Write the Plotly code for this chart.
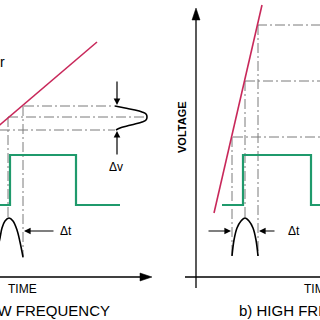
import plotly.graph_objects as go

# ---- data (diagram geometry in picture units, 0..320, y downwards) ----
red_left_x = [-5, 97]
red_left_y = [129, 42]
red_right_x = [214, 238, 262]
red_right_y = [213, 110, 5]

pulse_left_x = [0, 10, 10, 76, 76, 120]
pulse_left_y = [205, 205, 155, 155, 205, 205]
pulse_right_x = [222, 243, 243, 311, 311, 320]
pulse_right_y = [205, 205, 155, 155, 205, 205]

dv_curve_x = [115, 125, 135, 142, 146, 147, 146, 142, 135, 127, 120, 116]
dv_curve_y = [106, 108, 110, 112, 114, 117, 120, 122, 124, 126, 128, 130]

dt_left_x = [-3, 0, 2, 5, 9, 13, 17, 20, 23]
dt_left_y = [252, 238, 228, 221, 218, 221, 230, 242, 257]
dt_right_x = [232, 234, 237, 241, 245, 249, 253, 256, 258]
dt_right_y = [256, 240, 228, 221, 218, 221, 228, 240, 256]

# dashed guide lines: (x0, y0, x1, y1)
guides = [
    (24, 106, 115, 106), (8, 117, 147, 117), (0, 130, 115, 130),
    (8, 117, 8, 218), (23, 106, 23, 258),
    (257, 25, 320, 25), (245, 81, 320, 81), (233, 137, 320, 137),
    (258, 25, 258, 258), (245, 81, 245, 218), (232, 137, 232, 258),
]

RED = "#c8285a"
GREEN = "#1f9a6c"
GRAY = "#7a7a7a"

fig = go.Figure()

for (x0, y0, x1, y1) in guides:
    fig.add_trace(go.Scatter(x=[x0, x1], y=[y0, y1], mode="lines",
                             line=dict(color=GRAY, width=1, dash="10px,3px,2px,3px"),
                             hoverinfo="skip"))

fig.add_trace(go.Scatter(x=red_left_x, y=red_left_y, mode="lines", line=dict(color=RED, width=1.6)))
fig.add_trace(go.Scatter(x=red_right_x, y=red_right_y, mode="lines", line=dict(color=RED, width=1.6)))
fig.add_trace(go.Scatter(x=pulse_left_x, y=pulse_left_y, mode="lines", line=dict(color=GREEN, width=2.2)))
fig.add_trace(go.Scatter(x=pulse_right_x, y=pulse_right_y, mode="lines", line=dict(color=GREEN, width=2.2)))
for cx, cy in [(dv_curve_x, dv_curve_y), (dt_left_x, dt_left_y), (dt_right_x, dt_right_y)]:
    fig.add_trace(go.Scatter(x=cx, y=cy, mode="lines", line=dict(color="black", width=1.6, shape="spline")))

# axes lines
fig.add_trace(go.Scatter(x=[0, 142], y=[277, 277], mode="lines", line=dict(color="black", width=1.3)))
fig.add_trace(go.Scatter(x=[185, 320], y=[277, 277], mode="lines", line=dict(color="black", width=1.3)))
fig.add_trace(go.Scatter(x=[196, 196], y=[20, 288], mode="lines", line=dict(color="black", width=1.3)))

# filled axis arrowheads
fig.add_trace(go.Scatter(x=[140, 152, 140, 140], y=[273, 277, 281, 273], mode="lines", fill="toself",
                         fillcolor="black", line=dict(color="black", width=0.5)))
fig.add_trace(go.Scatter(x=[192, 196, 200, 192], y=[20, 8, 20, 20], mode="lines", fill="toself",
                         fillcolor="black", line=dict(color="black", width=0.5)))

# small arrows: (tip_x, tip_y, tail_x, tail_y)
arrows = [(117, 105, 117, 80), (117, 131, 117, 156), (24, 231, 55, 231),
          (231, 231, 207, 231), (259, 231, 276, 231)]
for tx, ty, sx, sy in arrows:
    fig.add_annotation(x=tx, y=ty, ax=sx, ay=sy, xref="x", yref="y", axref="x", ayref="y",
                       showarrow=True, arrowhead=2, arrowsize=1.1, arrowwidth=1.2,
                       arrowcolor="black", text="")

FONT = "Liberation Sans, Arial, sans-serif"
texts = [
    ("r", 2, 62, 14, "center"),
    ("Δv", 116, 167, 12, "center"),
    ("Δt", 58, 231, 12, "left"),
    ("Δt", 286, 231, 12, "left"),
    ("TIME", 22, 289, 12, "center"),
    ("TIME", 302, 289, 12, "left"),
    ("a) LOW FREQUENCY", 112, 310, 15, "right"),
    ("b) HIGH FREQUENCY", 237, 310, 15, "left"),
]
for t, x, y, s, anc in texts:
    fig.add_annotation(x=x, y=y, xref="x", yref="y", text=t, showarrow=False,
                       xanchor=anc, yanchor="middle",
                       font=dict(family=FONT, size=s, color="black"))
fig.add_annotation(x=182, y=127, xref="x", yref="y", text="<b>VOLTAGE</b>", showarrow=False,
                   textangle=-90, font=dict(family=FONT, size=11, color="black"))

fig.update_layout(width=320, height=320, margin=dict(l=0, r=0, t=0, b=0),
                  paper_bgcolor="white", plot_bgcolor="white", showlegend=False,
                  xaxis=dict(range=[0, 320], visible=False, fixedrange=True),
                  yaxis=dict(range=[320, 0], visible=False, fixedrange=True))
fig.write_html("out.html")
